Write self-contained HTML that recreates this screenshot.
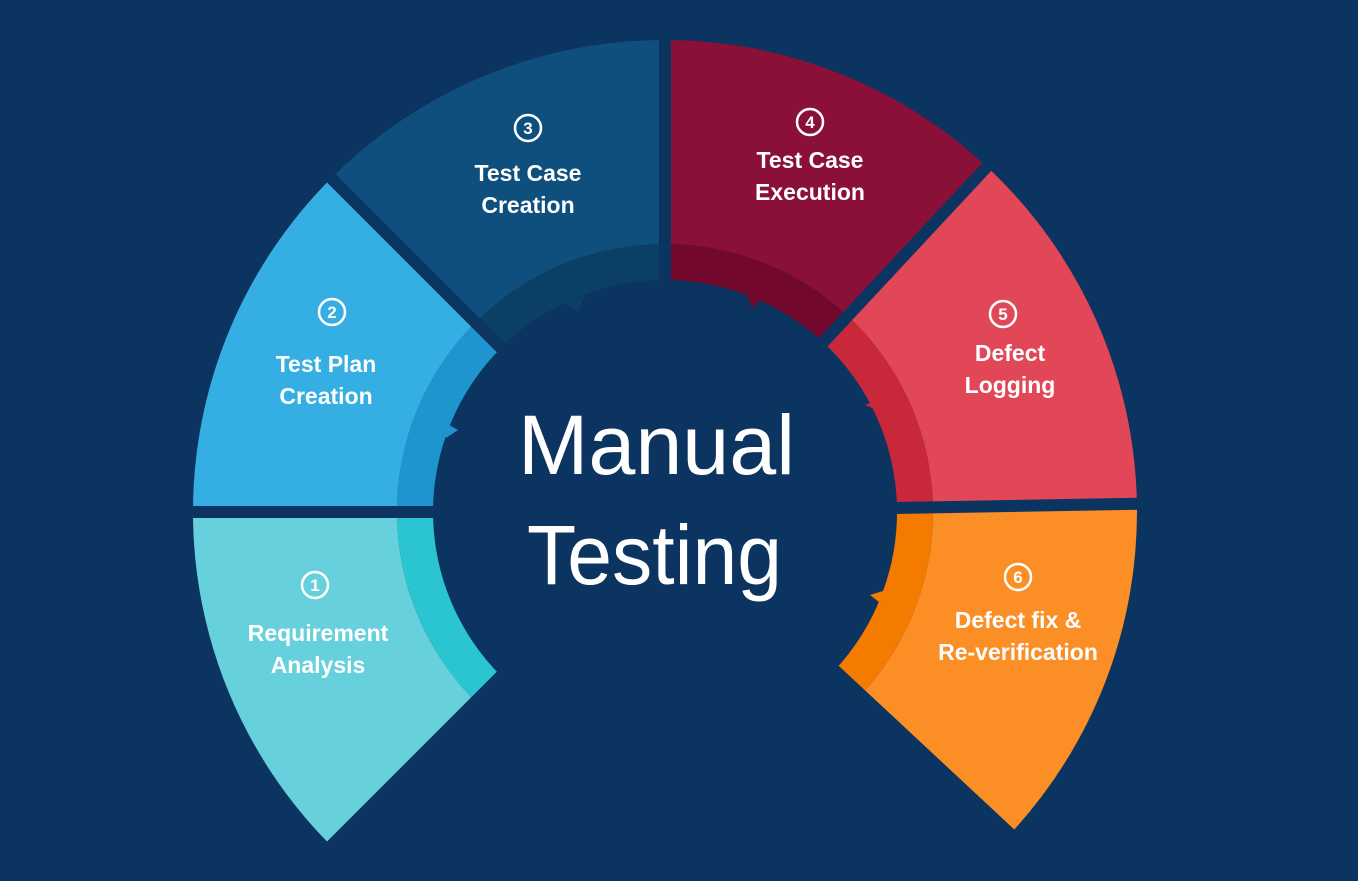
<!DOCTYPE html>
<html><head><style>
html,body{margin:0;padding:0;background:#0c3461;}
svg{display:block}
text{font-family:"Liberation Sans",sans-serif;fill:#fff}
.l{font-weight:bold;font-size:23px;text-anchor:middle}
.n{font-weight:bold;font-size:17px;text-anchor:middle}
</style></head><body>
<svg width="1358" height="881" viewBox="0 0 1358 881" xmlns="http://www.w3.org/2000/svg">
<rect width="1358" height="881" fill="#0c3461"/>
<!-- seg1 -->
<path d="M475.5 701.5 L331.2 845.8 A472 472 0 0 1 193 512 L397 512 A268 268 0 0 0 475.5 701.5Z" fill="#67d0dd"/>
<path d="M501 676 L475.5 701.5 A268 268 0 0 1 397 512 L433 512 A232 232 0 0 0 501 676Z" fill="#2ac5d0"/>
<!-- seg2 -->
<path d="M397 512 L193 512 A472 472 0 0 1 331.2 178.2 L475.5 322.5 A268 268 0 0 0 397 512Z" fill="#35aee3"/>
<path d="M433 512 L397 512 A268 268 0 0 1 475.5 322.5 L501 348 A232 232 0 0 0 433 512Z" fill="#1f95cf"/>
<!-- seg3 -->
<path d="M475.5 322.5 L331.2 178.2 A472 472 0 0 1 665 40 L665 244 A268 268 0 0 0 475.5 322.5Z" fill="#0f4f7d"/>
<path d="M501 348 L475.5 322.5 A268 268 0 0 1 665 244 L665 280 A232 232 0 0 0 501 348Z" fill="#0b3f63"/>
<!-- seg4 -->
<path d="M665 244 L665 40 A472 472 0 0 1 986.9 166.8 L847.8 316 A268 268 0 0 0 665 244Z" fill="#8a1038"/>
<path d="M665 280 L665 244 A268 268 0 0 1 847.8 316 L823.2 342.3 A232 232 0 0 0 665 280Z" fill="#72082c"/>
<!-- seg5 -->
<path d="M847.8 316 L986.9 166.8 A472 472 0 0 1 1136.9 503.8 L933 507.3 A268 268 0 0 0 847.8 316Z" fill="#e14757"/>
<path d="M823.2 342.3 L847.8 316 A268 268 0 0 1 933 507.3 L897 508 A232 232 0 0 0 823.2 342.3Z" fill="#c8283a"/>
<!-- seg6 -->
<path d="M933 507.3 L1136.9 503.8 A472 472 0 0 1 1010.2 833.9 L861 694.8 A268 268 0 0 0 933 507.3Z" fill="#fb8f25"/>
<path d="M897 508 L933 507.3 A268 268 0 0 1 861 694.8 L834.7 670.2 A232 232 0 0 0 897 508Z" fill="#f57a00"/>
<!-- notches -->
<path d="M436 600 L452 604 L440 612Z" fill="#2ac5d0"/>
<path d="M440 420 L458 430 L446 438Z" fill="#1f95cf"/>
<path d="M565 302 L578 312 L585 296Z" fill="#0b3f63"/>
<path d="M745 290 L752 308 L765 296Z" fill="#72082c"/>
<path d="M865 405 L882 412 L882 398Z" fill="#c8283a"/>
<path d="M870 595 L886 590 L884 606Z" fill="#f57a00"/>
<!-- gaps -->
<g stroke="#0c3461" stroke-width="12">
<line x1="558.9" y1="618.1" x2="297.3" y2="879.7"/>
<line x1="515" y1="512" x2="145" y2="512"/>
<line x1="558.9" y1="405.9" x2="297.3" y2="144.3"/>
<line x1="665" y1="362" x2="665" y2="-8"/>
<line x1="767.3" y1="402.3" x2="1019.6" y2="131.7"/>
<line x1="815" y1="509.4" x2="1184.9" y2="502.9"/>
<line x1="774.7" y1="614.3" x2="1045.3" y2="866.6"/>
</g>
<g fill="none" stroke="#fff" stroke-width="2.5">
<circle cx="315" cy="585" r="13"/><circle cx="332" cy="312" r="13"/><circle cx="528" cy="128" r="13"/>
<circle cx="810" cy="122" r="13"/><circle cx="1003" cy="314" r="13"/><circle cx="1018" cy="577" r="13"/>
</g>
<text class="n" x="315" y="591">1</text><text class="n" x="332" y="318">2</text><text class="n" x="528" y="134">3</text>
<text class="n" x="810" y="128">4</text><text class="n" x="1003" y="320">5</text><text class="n" x="1018" y="583">6</text>
<text class="l" x="318" y="641">Requirement</text><text class="l" x="318" y="673">Analysis</text>
<text class="l" x="326" y="372">Test Plan</text><text class="l" x="326" y="404">Creation</text>
<text class="l" x="528" y="181">Test Case</text><text class="l" x="528" y="213">Creation</text>
<text class="l" x="810" y="168">Test Case</text><text class="l" x="810" y="200">Execution</text>
<text class="l" x="1010" y="361">Defect</text><text class="l" x="1010" y="393">Logging</text>
<text class="l" x="1018" y="628">Defect fix &amp;</text><text class="l" x="1018" y="660">Re-verification</text>
<text x="518" y="474" font-size="84" textLength="277" lengthAdjust="spacingAndGlyphs">Manual</text>
<text x="527" y="584" font-size="84" textLength="255" lengthAdjust="spacingAndGlyphs">Testing</text>
</svg>
</body></html>
